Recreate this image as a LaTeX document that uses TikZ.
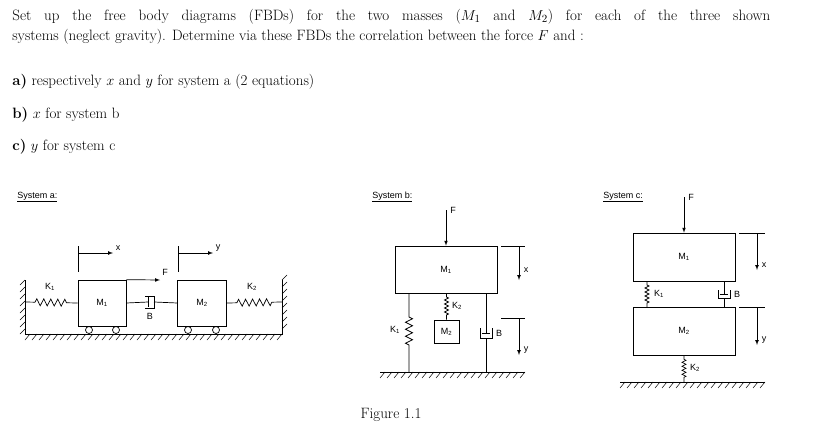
\documentclass[tikz,border=0pt]{standalone}
\usepackage{fontspec}
\newfontfamily\lab{Liberation Sans}
\usetikzlibrary{decorations.pathmorphing}
\begin{document}
\begin{tikzpicture}[x=1pt,y=-1pt,line width=0.7pt,
  mass/.style={draw,fill=white,inner sep=0pt,font=\lab\small},
  lbl/.style={font=\lab\small,inner sep=1pt},
  spring/.style={decorate,decoration={zigzag,amplitude=3.5pt,segment length=7pt,pre length=#1,post length=#1}},
  spring/.default=10pt,
  sspring/.style={decorate,decoration={zigzag,amplitude=2pt,segment length=4pt,pre length=4pt,post length=4pt}},
  arr/.style={-latex},
  hatch/.style={line width=0.5pt}]
\useasboundingbox (0,0) rectangle (815,436);
% text
\node[anchor=north west,inner sep=0pt,text width=758pt,align=justify,font=\fontsize{15}{20}\selectfont] (t1) at (12,9)
 {Set up the free body diagrams (FBDs) for the two masses ($M_1$ and $M_2$) for each of the three shown\linebreak systems (neglect gravity). Determine via these FBDs the correlation between the force $F$ and :};
\node[anchor=west,inner sep=0pt,font=\fontsize{15}{17}\selectfont] (ta) at (12,82) {\textbf{a)} respectively $x$ and $y$ for system a (2 equations)};
\node[anchor=west,inner sep=0pt,font=\fontsize{15}{17}\selectfont] (tb) at (12,115) {\textbf{b)} $x$ for system b};
\node[anchor=west,inner sep=0pt,font=\fontsize{15}{17}\selectfont] (tc) at (12,147) {\textbf{c)} $y$ for system c};
\node[anchor=north,inner sep=0pt,font=\fontsize{15}{17}\selectfont] (fig) at (391,408) {Figure 1.1};
% titles
\node[lbl,anchor=west] (sa) at (16,197) {\underline{System a:}};
\node[lbl,anchor=west] (sb) at (371,197) {\underline{System b:}};
\node[lbl,anchor=west] (sc) at (602,197) {\underline{System c:}};

% ===== System a =====
\draw (25,280) -- (25,334) -- (282,334) -- (282,280);
\foreach \i in {0,7,...,54} \draw[hatch] (25,280+\i) -- ++(-5,5);
\foreach \i in {0,7,...,54} \draw[hatch] (282,280+\i) -- ++(5,-5);
\foreach \i in {30,37,...,282} \draw[hatch] (\i,334) -- ++(-5,6);
\node[mass,minimum width=48pt,minimum height=46pt] (a1) at (102,303) {M\textsubscript{1}};
\node[mass,minimum width=49pt,minimum height=46pt] (a2) at (202,303) {M\textsubscript{2}};
\foreach \c in {89,116} \draw (\c,330) circle (3.5);
\foreach \c in {188,216} \draw (\c,330) circle (3.5);
\coordinate (wl) at (25,302); \coordinate (wr) at (282,302);
\draw[spring] (wl) -- (a1.west);
\draw[spring] (a2.east) -- (wr);
\node[lbl] (k1a) at (50,287) {K\textsubscript{1}};
\node[lbl] (k2a) at (252,287) {K\textsubscript{2}};
% damper
\draw (a1.east) -- (148,302);
\draw (148,297) -- (148,307);
\draw (145,296) -- (154,296) -- (154,308) -- (145,308);
\draw (154,302) -- (a2.west);
\node[lbl] (ba) at (150,316) {B};
% F
\draw[arr] (a1.north east) -- (160,280);
\node[lbl] (fa) at (165,272) {F};
% x, y markers
\draw (78,246) -- (78,272); \draw[arr] (78,253) -- (113,253);
\node[lbl] (xa) at (118,248) {x};
\draw (178,246) -- (178,272); \draw[arr] (178,253) -- (213,253);
\node[lbl] (ya) at (218,248) {y};

% ===== System b =====
\node[mass,minimum width=102pt,minimum height=47pt] (b1) at (446,269.5) {M\textsubscript{1}};
\node[mass,minimum width=25pt,minimum height=23pt] (b2) at (446.5,331.5) {M\textsubscript{2}};
\coordinate (gb1) at (409,372); \coordinate (gb2) at (486,372);
\draw (380,372) -- (525,372);
\foreach \i in {385,392,...,525} \draw[hatch] (\i,372) -- ++(-5,6);
\draw[spring=24pt] (409,293) -- (gb1);
\node[lbl] (k1b) at (395,330) {K\textsubscript{1}};
\draw[sspring] (446.5,293) -- (b2.north);
\node[lbl] (k2b) at (457,306) {K\textsubscript{2}};
\draw (486,293) -- (486,333); \draw (482,333) -- (490,333);
\draw (480,328) -- (480,338) -- (492,338) -- (492,328);
\draw (486,338) -- (gb2);
\node[lbl] (bb) at (499,333) {B};
\coordinate (fb) at (446,210);
\draw[arr] (fb) -- (b1.north);
\node[lbl] (Fb) at (453,210) {F};
\draw (501,246) -- (525,246); \draw[arr] (519,246) -- (519,280);
\node[lbl] (xb) at (526,270) {x};
\draw (501,318) -- (525,318); \draw[arr] (519,318) -- (519,355);
\node[lbl] (yb) at (526,350) {y};

% ===== System c =====
\node[mass,minimum width=102pt,minimum height=48pt] (c1) at (684,257) {M\textsubscript{1}};
\node[mass,minimum width=102pt,minimum height=48pt] (c2) at (684,331) {M\textsubscript{2}};
\draw (620,382) -- (765,382);
\foreach \i in {625,632,...,765} \draw[hatch] (\i,382) -- ++(-5,6);
\coordinate (gc) at (684,382);
\draw[sspring] (647,281) -- (647,307);
\node[lbl] (k1c) at (659,294) {K\textsubscript{1}};
\draw (724,281) -- (724,294); \draw (720,294) -- (728,294);
\draw (718,290) -- (718,298) -- (730,298) -- (730,290);
\draw (724,298) -- (724,307);
\node[lbl] (bc) at (737,294) {B};
\draw[sspring] (c2.south) -- (gc);
\node[lbl] (k2c) at (695,368) {K\textsubscript{2}};
\coordinate (fc) at (684,197);
\draw[arr] (fc) -- (c1.north);
\node[lbl] (Fc) at (691,197) {F};
\draw (739,233) -- (765,233); \draw[arr] (757,233) -- (757,270);
\node[lbl] (xc) at (764,265) {x};
\draw (739,307) -- (765,307); \draw[arr] (757,307) -- (757,345);
\node[lbl] (yc) at (764,340) {y};
\end{tikzpicture}
\end{document}
